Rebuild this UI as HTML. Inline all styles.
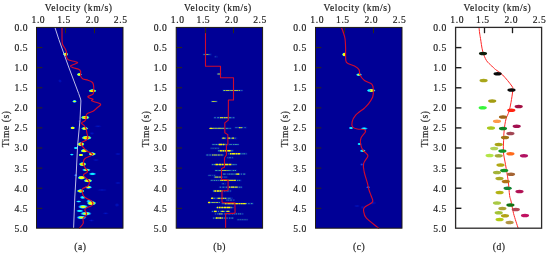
<!DOCTYPE html>
<html lang="en">
<head>
<meta charset="utf-8">
<title>Velocity analysis panels</title>
<style>
html,body{margin:0;padding:0;background:#fff;}
body{width:550px;height:254px;overflow:hidden;position:relative;font-family:"Liberation Serif", "Times New Roman", serif;}
</style>
</head>
<body>
<svg width="550" height="254" viewBox="0 0 550 254" style="display:block;position:absolute;left:0;top:0">
<defs>
<radialGradient id="gh"><stop offset="0" stop-color="#ff7a00"/><stop offset=".22" stop-color="#ffc800"/><stop offset=".5" stop-color="#ffff00"/><stop offset=".78" stop-color="#30ffb0" stop-opacity=".85"/><stop offset=".9" stop-color="#00a0ff" stop-opacity=".45"/><stop offset="1" stop-color="#0040ff" stop-opacity="0"/></radialGradient>
<radialGradient id="gy"><stop offset="0" stop-color="#ffff00"/><stop offset=".5" stop-color="#f0ff10"/><stop offset=".75" stop-color="#40ffc0" stop-opacity=".85"/><stop offset=".9" stop-color="#00a0ff" stop-opacity=".4"/><stop offset="1" stop-color="#0040ff" stop-opacity="0"/></radialGradient>
<radialGradient id="gyc"><stop offset="0" stop-color="#ffff00"/><stop offset=".35" stop-color="#d0ff30"/><stop offset=".6" stop-color="#20f0ff" stop-opacity=".95"/><stop offset=".85" stop-color="#00a0ff" stop-opacity=".5"/><stop offset="1" stop-color="#0040ff" stop-opacity="0"/></radialGradient>
<radialGradient id="gc"><stop offset="0" stop-color="#30ffff"/><stop offset=".5" stop-color="#00e0ff"/><stop offset=".8" stop-color="#0080ff" stop-opacity=".6"/><stop offset="1" stop-color="#0040ff" stop-opacity="0"/></radialGradient>
<radialGradient id="gc2"><stop offset="0" stop-color="#20a0ff"/><stop offset=".6" stop-color="#1060ff" stop-opacity=".7"/><stop offset="1" stop-color="#0030ff" stop-opacity="0"/></radialGradient>
<radialGradient id="gf"><stop offset="0" stop-color="#1030ff" stop-opacity=".45"/><stop offset="1" stop-color="#0020e0" stop-opacity="0"/></radialGradient>
<radialGradient id="gf2"><stop offset="0" stop-color="#3060ff" stop-opacity=".9"/><stop offset="1" stop-color="#0020e0" stop-opacity="0"/></radialGradient>
<linearGradient id="gs" x1="0" x2="1" y1="0" y2="0"><stop offset="0" stop-color="#20c0ff" stop-opacity="0"/><stop offset=".12" stop-color="#40e0c0" stop-opacity=".7"/><stop offset=".3" stop-color="#e8f020"/><stop offset=".7" stop-color="#e8f020"/><stop offset=".88" stop-color="#40e0c0" stop-opacity=".7"/><stop offset="1" stop-color="#20c0ff" stop-opacity="0"/></linearGradient>
<filter id="bl2" x="-5%" y="-5%" width="110%" height="110%"><feGaussianBlur stdDeviation=".22"/></filter>
<filter id="bl" x="-20%" y="-20%" width="140%" height="140%"><feGaussianBlur stdDeviation=".35"/></filter>
</defs>
<rect width="550" height="254" fill="#fff"/>
<rect x="36.5" y="27.4" width="86.5" height="200.8" fill="#000096"/>
<rect x="176.2" y="27.4" width="86.4" height="200.8" fill="#000096"/>
<rect x="315.5" y="27.4" width="86.5" height="200.8" fill="#000096"/>
<g>
<g filter="url(#bl)">
<ellipse cx="65.6" cy="54.3" rx="2.80" ry="2.10" fill="url(#gy)"/>
<ellipse cx="79.3" cy="74.5" rx="2.80" ry="1.68" fill="url(#gy)"/>
<ellipse cx="92.5" cy="90.8" rx="4.20" ry="1.82" fill="url(#gh)"/>
<ellipse cx="74.5" cy="101.4" rx="2.52" ry="1.54" fill="url(#gyc)"/>
<ellipse cx="85.2" cy="117.5" rx="4.55" ry="1.96" fill="url(#gh)"/>
<ellipse cx="72.6" cy="127.9" rx="2.52" ry="1.68" fill="url(#gy)"/>
<ellipse cx="84.8" cy="128.5" rx="3.85" ry="1.68" fill="url(#gy)"/>
<ellipse cx="86.6" cy="137.8" rx="5.25" ry="2.24" fill="url(#gh)"/>
<ellipse cx="80.8" cy="144.2" rx="3.85" ry="2.24" fill="url(#gh)"/>
<ellipse cx="75.9" cy="148.0" rx="2.52" ry="1.54" fill="url(#gc)"/>
<ellipse cx="84.2" cy="150.8" rx="3.85" ry="1.96" fill="url(#gy)"/>
<ellipse cx="92.3" cy="154.0" rx="3.85" ry="1.96" fill="url(#gy)"/>
<ellipse cx="80.9" cy="155.0" rx="2.52" ry="1.54" fill="url(#gy)"/>
<ellipse cx="71.8" cy="154.6" rx="2.10" ry="1.26" fill="url(#gc)"/>
<ellipse cx="82.6" cy="164.2" rx="3.85" ry="2.24" fill="url(#gh)"/>
<ellipse cx="86.4" cy="169.9" rx="4.55" ry="1.68" fill="url(#gyc)"/>
<ellipse cx="92.5" cy="173.9" rx="3.85" ry="1.68" fill="url(#gc)"/>
<ellipse cx="75.7" cy="175.3" rx="1.82" ry="1.54" fill="url(#gc2)"/>
<ellipse cx="81.5" cy="177.7" rx="4.06" ry="2.10" fill="url(#gy)"/>
<ellipse cx="88.0" cy="180.7" rx="4.55" ry="1.96" fill="url(#gy)"/>
<ellipse cx="88.4" cy="187.3" rx="3.85" ry="1.68" fill="url(#gyc)"/>
<ellipse cx="80.6" cy="191.0" rx="3.85" ry="1.96" fill="url(#gh)"/>
<ellipse cx="82.8" cy="197.4" rx="3.15" ry="1.82" fill="url(#gc)"/>
<ellipse cx="78.7" cy="201.5" rx="2.80" ry="1.26" fill="url(#gc)"/>
<ellipse cx="89.5" cy="201.3" rx="3.50" ry="1.82" fill="url(#gc)"/>
<ellipse cx="91.6" cy="203.2" rx="4.90" ry="2.38" fill="url(#gy)"/>
<ellipse cx="83.1" cy="206.8" rx="5.25" ry="2.24" fill="url(#gyc)"/>
<ellipse cx="79.8" cy="210.9" rx="3.85" ry="1.54" fill="url(#gc)"/>
<ellipse cx="85.9" cy="213.6" rx="5.95" ry="2.24" fill="url(#gyc)"/>
<ellipse cx="81.5" cy="217.5" rx="5.25" ry="1.96" fill="url(#gyc)"/>
<ellipse cx="79.3" cy="121.3" rx="2.10" ry="1.40" fill="url(#gf)"/>
<ellipse cx="98.0" cy="126.3" rx="4.20" ry="1.40" fill="url(#gf)"/>
<ellipse cx="92.0" cy="133.4" rx="2.80" ry="1.68" fill="url(#gf)"/>
<ellipse cx="105.7" cy="213.4" rx="3.50" ry="1.40" fill="url(#gf)"/>
<ellipse cx="91.4" cy="220.5" rx="3.50" ry="1.40" fill="url(#gf)"/>
<ellipse cx="60.0" cy="81.0" rx="2.10" ry="2.10" fill="url(#gf)"/>
<ellipse cx="102.0" cy="190.0" rx="5.60" ry="1.40" fill="url(#gf)"/>
<ellipse cx="96.0" cy="160.0" rx="3.50" ry="1.40" fill="url(#gf)"/>
<ellipse cx="118.0" cy="154.0" rx="3.50" ry="1.40" fill="url(#gf)"/>
<ellipse cx="118.0" cy="183.0" rx="3.50" ry="1.40" fill="url(#gf)"/>
<ellipse cx="117.0" cy="205.0" rx="2.80" ry="2.10" fill="url(#gf)"/>
</g>
<polyline points="54.9,27.3 58.9,39.6 68.3,66.0 78.7,93.6 80.6,99.0 80.9,101.0 80.0,119.6 77.6,145.6 76.3,172.0 74.8,197.0 73.6,228.3" fill="none" stroke="#bcbce8" stroke-width="1" stroke-linejoin="round"/>
<path d="M62.0,27.3 C62.0,28.8 62.0,33.7 62.0,36.0 C62.0,38.3 62.0,39.6 62.1,41.0 C62.2,42.4 62.0,43.0 62.6,44.4 C63.2,45.8 64.8,48.0 65.5,49.4 C66.2,50.8 66.4,51.5 66.6,52.7 C66.8,53.9 66.1,55.3 66.4,56.5 C66.7,57.7 66.8,59.0 68.2,59.8 C69.6,60.6 73.2,61.0 74.8,61.5 C76.4,62.0 77.8,62.3 77.6,62.8 C77.4,63.3 74.9,63.9 73.7,64.5 C72.5,65.1 70.5,65.7 70.4,66.2 C70.3,66.7 71.8,67.2 73.2,67.7 C74.6,68.2 77.5,68.7 78.7,69.3 C79.9,69.9 80.3,70.4 80.6,71.5 C80.9,72.6 80.3,74.7 80.6,75.9 C80.9,77.1 81.4,78.0 82.6,78.7 C83.8,79.4 86.3,79.7 88.0,80.3 C89.7,80.9 91.6,81.6 92.5,82.5 C93.4,83.4 93.4,84.5 93.6,85.8 C93.8,87.0 93.8,88.6 93.7,90.0 C93.6,91.4 94.0,93.1 93.0,94.2 C92.0,95.3 88.6,95.8 88.0,96.4 C87.4,97.0 88.4,97.5 89.2,98.0 C90.0,98.5 92.6,98.8 93.0,99.2 C93.4,99.6 91.2,100.2 91.4,100.6 C91.6,101.0 92.7,101.2 94.1,101.7 C95.5,102.2 98.7,103.0 99.7,103.6 C100.8,104.2 100.9,104.5 100.4,105.2 C99.9,105.9 98.1,107.0 96.9,108.0 C95.7,109.0 94.6,110.4 93.0,111.3 C91.4,112.2 88.7,112.8 87.5,113.5 C86.3,114.2 86.3,115.0 86.1,115.7 C85.9,116.5 86.5,117.2 86.3,118.0 C86.1,118.8 85.6,120.0 84.8,120.8 C84.0,121.6 81.6,122.2 81.5,123.0 C81.4,123.8 83.4,124.7 84.2,125.7 C85.0,126.7 85.6,127.7 86.1,129.0 C86.6,130.3 86.7,131.9 87.0,133.4 C87.3,134.9 88.0,136.7 87.9,137.8 C87.8,138.9 87.4,139.2 86.4,140.0 C85.4,140.8 82.9,141.6 82.0,142.3 C81.1,143.1 80.9,143.6 81.2,144.5 C81.5,145.4 82.7,146.8 83.7,147.9 C84.7,149.0 85.6,150.3 87.0,151.2 C88.4,152.1 91.0,152.8 91.9,153.4 C92.8,154.0 92.8,154.1 92.5,154.5 C92.2,154.9 91.5,155.5 90.3,156.1 C89.1,156.7 86.4,157.4 85.3,158.3 C84.2,159.2 83.6,160.4 83.4,161.6 C83.2,162.8 83.5,164.3 83.9,165.5 C84.3,166.7 85.3,167.9 85.9,168.8 C86.5,169.7 87.3,170.4 87.5,171.0 C87.7,171.6 87.7,171.7 87.0,172.4 C86.3,173.1 83.7,174.1 83.4,175.0 C83.1,175.9 84.4,176.8 85.3,177.7 C86.2,178.6 87.9,179.5 88.6,180.5 C89.2,181.5 89.4,182.8 89.2,183.8 C89.0,184.8 88.6,185.5 87.5,186.3 C86.4,187.1 83.5,187.8 82.6,188.7 C81.7,189.6 82.1,190.8 82.3,192.0 C82.5,193.2 83.0,195.2 83.7,196.2 C84.4,197.2 85.1,197.4 86.4,198.2 C87.7,199.0 90.3,200.1 91.4,201.0 C92.5,201.9 93.0,202.9 93.0,203.7 C93.0,204.5 92.4,205.2 91.4,205.9 C90.4,206.6 88.1,206.9 87.0,207.6 C85.9,208.2 84.9,208.9 84.8,209.8 C84.7,210.7 86.2,212.1 86.4,213.1 C86.6,214.1 86.5,214.9 85.9,215.8 C85.4,216.7 83.5,217.3 83.1,218.6 C82.6,219.9 83.8,221.8 83.2,223.4 C82.6,225.0 79.9,227.5 79.2,228.3" fill="none" stroke="#d00a2e" stroke-width="1.15" stroke-linejoin="round"/>
</g>
<g>
<g filter="url(#bl2)">
<rect x="202.5" y="53.30" width="9.5" height="2.4" rx="1.2" fill="#1040f0" opacity="0.20"/>
<line x1="203.4" y1="54.50" x2="211.1" y2="54.50" stroke="#58dca0" stroke-width="1" stroke-dasharray="2 1.3 2 0.6 1 1.3 1 0.4" opacity="0.52"/>
<line x1="205.0" y1="54.50" x2="209.0" y2="54.50" stroke="#afc44a" stroke-width="1.05" stroke-dasharray="3.4 0.5 1.8 0.3" opacity="0.66"/>
<rect x="214.0" y="55.50" width="4.0" height="2.4" rx="1.2" fill="#1040f0" opacity="0.18"/>
<line x1="214.9" y1="56.70" x2="217.1" y2="56.70" stroke="#58dca0" stroke-width="1" stroke-dasharray="0.7 1.3 2 0.6" opacity="0.47"/>
<rect x="216.5" y="72.80" width="5.5" height="2.4" rx="1.2" fill="#1040f0" opacity="0.20"/>
<line x1="217.4" y1="74.00" x2="221.1" y2="74.00" stroke="#58dca0" stroke-width="1" stroke-dasharray="0.7 0.4 0.7 0.4 1 0.6 0.7 1.3" opacity="0.52"/>
<line x1="218.0" y1="74.00" x2="220.0" y2="74.00" stroke="#a8c050" stroke-width="1.05" stroke-linecap="round"/>
<rect x="222.2" y="89.30" width="21.0" height="2.4" rx="1.2" fill="#1040f0" opacity="0.24"/>
<line x1="223.1" y1="90.50" x2="242.3" y2="90.50" stroke="#58dca0" stroke-width="1" stroke-dasharray="1.4 1.3 1 0.6 1.4 1.3 0.7 0.4 2 0.9 2 0.4 1.4 0.9 1 0.9 0.7 0.4 0.7 1.3" opacity="0.70"/>
<line x1="224.0" y1="90.50" x2="240.0" y2="90.50" stroke="#d0d82b" stroke-width="1.05" stroke-dasharray="1.2 0.5 3.4 0.3 1.2 0.7 1.2 0.3 1.8 0.3 3.4 0.5 3.4 0.5" opacity="0.81"/>
<rect x="210.5" y="100.30" width="7.5" height="2.4" rx="1.2" fill="#1040f0" opacity="0.22"/>
<line x1="211.4" y1="101.50" x2="217.1" y2="101.50" stroke="#58dca0" stroke-width="1" stroke-dasharray="0.7 0.6 1.4 0.9 0.7 0.9 1.4 0.4" opacity="0.61"/>
<line x1="212.0" y1="101.50" x2="216.5" y2="101.50" stroke="#d0d82b" stroke-width="1.05" stroke-dasharray="3.4 0.3 1.8 0.3" opacity="0.81"/>
<rect x="213.2" y="116.50" width="22.0" height="2.4" rx="1.2" fill="#1040f0" opacity="0.24"/>
<line x1="214.1" y1="117.70" x2="234.3" y2="117.70" stroke="#58dca0" stroke-width="1" stroke-dasharray="0.7 0.4 0.7 1.3 2 0.6 1 1.3 1 0.6 2 1.3 0.7 1.3 2 0.6 0.7 0.9 1.4 0.4 1 0.6" opacity="0.70"/>
<line x1="220.0" y1="117.70" x2="228.0" y2="117.70" stroke="#dee01f" stroke-width="1.16" stroke-dasharray="3.4 0.7 1.2 0.3 1.8 0.3 3.4 0.5" opacity="0.87"/>
<rect x="209.4" y="127.20" width="22.5" height="2.4" rx="1.2" fill="#1040f0" opacity="0.24"/>
<line x1="210.3" y1="128.40" x2="231.0" y2="128.40" stroke="#58dca0" stroke-width="1" stroke-dasharray="0.7 0.9 1.4 1.3 0.7 0.4 0.7 0.6 1 0.4 1.4 0.9 2 0.6 2 0.6 2 0.6 1 0.9 1 0.6" opacity="0.70"/>
<line x1="210.0" y1="128.40" x2="212.0" y2="128.40" stroke="#f8f006" stroke-width="1.39" stroke-linecap="round"/>
<line x1="213.0" y1="128.40" x2="224.0" y2="128.40" stroke="#c3d037" stroke-width="1.05" stroke-dasharray="1.8 0.3 1.8 0.7 3.4 0.5 1.2 0.5 1.2 0.3" opacity="0.75"/>
<rect x="234.2" y="126.40" width="13.1" height="2.4" rx="1.2" fill="#1040f0" opacity="0.20"/>
<line x1="235.1" y1="127.60" x2="246.4" y2="127.60" stroke="#58dca0" stroke-width="1" stroke-dasharray="0.7 0.4 1.4 0.6 2 0.9 2 1.3 1.4 0.6 0.7 0.6" opacity="0.52"/>
<line x1="239.0" y1="127.60" x2="242.0" y2="127.60" stroke="#dee01f" stroke-width="1.16" stroke-dasharray="1.8 0.5 1.2 0.5" opacity="0.87"/>
<rect x="221.0" y="137.00" width="16.4" height="2.4" rx="1.2" fill="#1040f0" opacity="0.23"/>
<line x1="221.9" y1="138.20" x2="236.5" y2="138.20" stroke="#58dca0" stroke-width="1" stroke-dasharray="1 0.6 0.7 0.4 1.4 1.3 2 0.6 0.7 0.4 1 0.9 1.4 0.6 0.7 0.9 1 1.3" opacity="0.66"/>
<line x1="223.0" y1="138.20" x2="224.2" y2="138.20" stroke="#ebe812" stroke-width="1.28" stroke-linecap="round"/>
<line x1="228.3" y1="138.20" x2="229.6" y2="138.20" stroke="#ebe812" stroke-width="1.28" stroke-linecap="round"/>
<line x1="232.4" y1="138.20" x2="233.6" y2="138.20" stroke="#dee01f" stroke-width="1.16" stroke-linecap="round"/>
<rect x="211.5" y="143.30" width="28.0" height="2.4" rx="1.2" fill="#1040f0" opacity="0.23"/>
<line x1="212.4" y1="144.50" x2="238.6" y2="144.50" stroke="#58dca0" stroke-width="1" stroke-dasharray="1.4 0.6 0.7 0.4 2 0.9 1.4 0.4 0.7 0.4 2 0.4 1.4 0.9 1 0.4 0.7 1.3 1.4 0.4 1 0.9 1.4 0.4 2 0.4 2 0.4" opacity="0.66"/>
<line x1="218.7" y1="144.50" x2="225.3" y2="144.50" stroke="#fff400" stroke-width="1.50" stroke-dasharray="3.4 0.7 1.2 0.7 3.4 0.5" opacity="1.00"/>
<rect x="209.9" y="147.10" width="9.9" height="2.4" rx="1.2" fill="#1040f0" opacity="0.18"/>
<line x1="210.8" y1="148.30" x2="218.9" y2="148.30" stroke="#58dca0" stroke-width="1" stroke-dasharray="0.7 0.4 0.7 0.4 0.7 0.9 2 0.9 2 1.3" opacity="0.47"/>
<rect x="217.1" y="149.60" width="17.0" height="2.4" rx="1.2" fill="#1040f0" opacity="0.26"/>
<line x1="218.0" y1="150.80" x2="233.2" y2="150.80" stroke="#58dca0" stroke-width="1" stroke-dasharray="2 1.3 0.7 0.4 1.4 0.4 2 0.4 1 0.4 2 1.3 1.4 0.4 1.4 0.9" opacity="0.75"/>
<line x1="220.0" y1="150.80" x2="231.0" y2="150.80" stroke="#fff400" stroke-width="1.44" stroke-dasharray="1.8 0.7 1.8 0.7 1.8 0.5 3.4 0.5" opacity="1.00"/>
<rect x="227.5" y="152.60" width="20.0" height="2.4" rx="1.2" fill="#1040f0" opacity="0.24"/>
<line x1="228.4" y1="153.80" x2="246.6" y2="153.80" stroke="#58dca0" stroke-width="1" stroke-dasharray="1 0.9 2 0.9 1 1.3 1 0.6 2 0.6 1.4 0.6 1 0.6 2 0.9 0.7 0.4 1.4 0.6" opacity="0.70"/>
<line x1="230.0" y1="153.80" x2="240.0" y2="153.80" stroke="#f8f006" stroke-width="1.39" stroke-dasharray="1.2 0.5 3.4 0.5 1.8 0.5 3.4 0.7" opacity="0.99"/>
<rect x="205.5" y="153.80" width="18.7" height="2.4" rx="1.2" fill="#1040f0" opacity="0.23"/>
<line x1="206.4" y1="155.00" x2="223.3" y2="155.00" stroke="#58dca0" stroke-width="1" stroke-dasharray="2 0.9 2 0.9 0.7 0.4 1.4 0.4 1.4 0.9 1.4 0.4 1 1.3 2 0.6" opacity="0.66"/>
<line x1="212.0" y1="155.00" x2="222.0" y2="155.00" stroke="#dee01f" stroke-width="1.16" stroke-dasharray="1.2 0.5 1.8 0.3 1.2 0.7 1.2 0.5 1.2 0.7 2.6 0.3" opacity="0.87"/>
<rect x="226.5" y="156.50" width="7.6" height="2.4" rx="1.2" fill="#1040f0" opacity="0.20"/>
<line x1="227.4" y1="157.70" x2="233.2" y2="157.70" stroke="#58dca0" stroke-width="1" stroke-dasharray="1 0.6 2 0.9 1 0.4 2 0.4" opacity="0.52"/>
<rect x="211.0" y="163.40" width="26.4" height="2.4" rx="1.2" fill="#1040f0" opacity="0.26"/>
<line x1="211.9" y1="164.60" x2="236.5" y2="164.60" stroke="#58dca0" stroke-width="1" stroke-dasharray="1 0.6 1.4 0.9 1 1.3 1 0.4 2 1.3 1 1.3 2 0.6 0.7 1.3 1.4 1.3 1.4 0.6 0.7 0.4 1 0.6 2 0.4" opacity="0.75"/>
<line x1="215.4" y1="164.60" x2="231.4" y2="164.60" stroke="#fff400" stroke-width="1.50" stroke-dasharray="2.6 0.7 2.6 0.5 1.2 0.5 1.2 0.3 3.4 0.5 3.4 0.5" opacity="1.00"/>
<rect x="214.3" y="169.30" width="23.1" height="2.4" rx="1.2" fill="#1040f0" opacity="0.24"/>
<line x1="215.2" y1="170.50" x2="236.5" y2="170.50" stroke="#58dca0" stroke-width="1" stroke-dasharray="2 0.4 1 0.4 2 0.4 1 0.9 1 1.3 1 1.3 2 0.4 1 1.3 1.4 0.6 1.4 0.9 2 0.6" opacity="0.70"/>
<line x1="221.0" y1="170.50" x2="228.0" y2="170.50" stroke="#d0d82b" stroke-width="1.05" stroke-dasharray="2.6 0.3 2.6 0.7 3.4 0.3" opacity="0.81"/>
<rect x="222.1" y="172.90" width="24.1" height="2.4" rx="1.2" fill="#1040f0" opacity="0.24"/>
<line x1="223.0" y1="174.10" x2="245.3" y2="174.10" stroke="#58dca0" stroke-width="1" stroke-dasharray="2 0.4 0.7 1.3 0.7 0.4 2 0.4 2 0.4 1 0.4 2 1.3 2 0.9 1 1.3 2 0.6 1.4 1.3" opacity="0.70"/>
<line x1="236.3" y1="174.10" x2="239.0" y2="174.10" stroke="#f8f006" stroke-width="1.39" stroke-dasharray="3.4 0.7" opacity="0.99"/>
<rect x="207.5" y="174.20" width="9.0" height="2.4" rx="1.2" fill="#1040f0" opacity="0.18"/>
<line x1="208.4" y1="175.40" x2="215.6" y2="175.40" stroke="#58dca0" stroke-width="1" stroke-dasharray="1.4 0.4 1 1.3 0.7 0.9 1 0.4 0.7 0.6" opacity="0.47"/>
<rect x="213.2" y="175.90" width="15.3" height="2.4" rx="1.2" fill="#1040f0" opacity="0.23"/>
<line x1="214.1" y1="177.10" x2="227.6" y2="177.10" stroke="#58dca0" stroke-width="1" stroke-dasharray="1 0.6 0.7 0.9 1.4 0.9 1 1.3 0.7 1.3 0.7 0.9 1 1.3 0.7 1.3" opacity="0.66"/>
<line x1="215.0" y1="177.10" x2="222.0" y2="177.10" stroke="#d0d82b" stroke-width="1.05" stroke-dasharray="3.4 0.7 1.8 0.7 1.8 0.7" opacity="0.81"/>
<rect x="209.9" y="179.20" width="31.9" height="2.4" rx="1.2" fill="#1040f0" opacity="0.24"/>
<line x1="210.8" y1="180.40" x2="240.9" y2="180.40" stroke="#58dca0" stroke-width="1" stroke-dasharray="1 0.6 1 0.6 1.4 0.6 1.4 0.9 1 0.6 1 0.4 1 0.6 1 0.4 1.4 1.3 0.7 1.3 2 0.6 1 1.3 0.7 0.4 1 0.9 1.4 0.4 1.4 0.6 0.7 1.3" opacity="0.70"/>
<line x1="220.4" y1="180.40" x2="235.8" y2="180.40" stroke="#f2ec0c" stroke-width="1.33" stroke-dasharray="1.2 0.3 1.2 0.7 3.4 0.3 1.8 0.3 1.2 0.3 1.8 0.3 2.6 0.7" opacity="0.96"/>
<rect x="221.0" y="182.50" width="5.4" height="2.4" rx="1.2" fill="#1040f0" opacity="0.20"/>
<line x1="221.9" y1="183.70" x2="225.5" y2="183.70" stroke="#58dca0" stroke-width="1" stroke-dasharray="0.7 0.4 1 1.3 0.7 0.4" opacity="0.52"/>
<rect x="218.8" y="186.00" width="24.1" height="2.4" rx="1.2" fill="#1040f0" opacity="0.24"/>
<line x1="219.7" y1="187.20" x2="242.0" y2="187.20" stroke="#58dca0" stroke-width="1" stroke-dasharray="1.4 1.3 2 1.3 1.4 1.3 1 0.9 0.7 0.4 1 0.6 2 1.3 1.4 0.9 2 0.6 1 0.4 0.7 0.9" opacity="0.70"/>
<line x1="229.0" y1="187.20" x2="238.0" y2="187.20" stroke="#f2ec0c" stroke-width="1.33" stroke-dasharray="1.2 0.7 3.4 0.7 1.8 0.7 2.6 0.5" opacity="0.96"/>
<rect x="212.1" y="189.80" width="19.8" height="2.4" rx="1.2" fill="#1040f0" opacity="0.26"/>
<line x1="213.0" y1="191.00" x2="231.0" y2="191.00" stroke="#58dca0" stroke-width="1" stroke-dasharray="1.4 0.4 1 1.3 1 0.9 1.4 1.3 1 1.3 1 0.6 0.7 0.9 1.4 1.3 0.7 0.4 1.4 0.4" opacity="0.75"/>
<line x1="214.3" y1="191.00" x2="222.6" y2="191.00" stroke="#fff400" stroke-width="1.50" stroke-dasharray="1.8 0.5 2.6 0.5 1.8 0.7 3.4 0.7" opacity="1.00"/>
<rect x="211.0" y="197.10" width="22.0" height="2.4" rx="1.2" fill="#1040f0" opacity="0.23"/>
<line x1="211.9" y1="198.30" x2="232.1" y2="198.30" stroke="#58dca0" stroke-width="1" stroke-dasharray="1 0.4 2 1.3 1 0.4 2 0.4 0.7 0.4 1 0.9 2 1.3 0.7 0.6 2 0.4 0.7 0.9 1.4 0.9" opacity="0.66"/>
<line x1="211.6" y1="198.30" x2="212.6" y2="198.30" stroke="#f8f006" stroke-width="1.39" stroke-linecap="round"/>
<line x1="217.6" y1="198.30" x2="227.0" y2="198.30" stroke="#dee01f" stroke-width="1.16" stroke-dasharray="2.6 0.7 3.4 0.7 1.2 0.7 3.4 0.7" opacity="0.87"/>
<rect x="225.4" y="198.90" width="9.8" height="2.4" rx="1.2" fill="#1040f0" opacity="0.20"/>
<line x1="226.3" y1="200.10" x2="234.3" y2="200.10" stroke="#58dca0" stroke-width="1" stroke-dasharray="0.7 0.4 2 0.6 2 1.3 1 1.3" opacity="0.52"/>
<rect x="207.7" y="201.30" width="13.2" height="2.4" rx="1.2" fill="#1040f0" opacity="0.23"/>
<line x1="208.6" y1="202.50" x2="220.0" y2="202.50" stroke="#58dca0" stroke-width="1" stroke-dasharray="0.7 1.3 2 1.3 1.4 1.3 1.4 0.9 1.4 1.3" opacity="0.66"/>
<line x1="208.6" y1="202.50" x2="209.7" y2="202.50" stroke="#f8f006" stroke-width="1.39" stroke-linecap="round"/>
<line x1="212.0" y1="202.50" x2="219.0" y2="202.50" stroke="#c9d431" stroke-width="1.05" stroke-dasharray="2.6 0.7 2.6 0.7 2.6 0.3" opacity="0.78"/>
<rect x="221.0" y="202.40" width="32.9" height="2.4" rx="1.2" fill="#1040f0" opacity="0.27"/>
<line x1="221.9" y1="203.60" x2="253.0" y2="203.60" stroke="#58dca0" stroke-width="1" stroke-dasharray="0.7 0.6 0.7 0.6 2 1.3 0.7 0.9 2 0.4 1.4 0.4 1 1.3 2 0.9 1 0.4 0.7 1.3 1 0.6 0.7 0.4 2 1.3 0.7 0.6 0.7 0.9 1 0.4 1.4 1.3" opacity="0.79"/>
<line x1="224.8" y1="203.60" x2="245.7" y2="203.60" stroke="#f8f006" stroke-width="1.39" stroke-dasharray="1.8 0.7 3.4 0.5 2.6 0.7 3.4 0.5 1.8 0.5 1.8 0.3 3.4 0.3" opacity="0.99"/>
<rect x="215.5" y="206.40" width="18.6" height="2.4" rx="1.2" fill="#1040f0" opacity="0.26"/>
<line x1="216.4" y1="207.60" x2="233.2" y2="207.60" stroke="#58dca0" stroke-width="1" stroke-dasharray="1.4 0.9 1.4 0.9 1 0.9 1 0.6 1 0.6 0.7 0.4 0.7 0.9 1.4 1.3 0.7 0.4 0.7 0.6 1.4 0.4" opacity="0.75"/>
<line x1="217.0" y1="207.60" x2="231.4" y2="207.60" stroke="#fff400" stroke-width="1.50" stroke-dasharray="1.2 0.7 1.8 0.7 1.8 0.7 2.6 0.5 3.4 0.5 1.8 0.5" opacity="1.00"/>
<rect x="211.0" y="210.20" width="19.8" height="2.4" rx="1.2" fill="#1040f0" opacity="0.23"/>
<line x1="211.9" y1="211.40" x2="229.9" y2="211.40" stroke="#58dca0" stroke-width="1" stroke-dasharray="1.4 1.3 1 0.4 0.7 1.3 1 1.3 2 0.9 2 0.6 1.4 0.6 1.4 0.9 1 1.3" opacity="0.66"/>
<line x1="214.0" y1="211.40" x2="217.0" y2="211.40" stroke="#f8f006" stroke-width="1.39" stroke-dasharray="2.6 0.7" opacity="0.99"/>
<line x1="222.0" y1="211.40" x2="223.2" y2="211.40" stroke="#ebe812" stroke-width="1.28" stroke-linecap="round"/>
<line x1="227.0" y1="211.40" x2="229.0" y2="211.40" stroke="#dee01f" stroke-width="1.16" stroke-linecap="round"/>
<rect x="214.3" y="212.70" width="29.7" height="2.4" rx="1.2" fill="#1040f0" opacity="0.23"/>
<line x1="215.2" y1="213.90" x2="243.1" y2="213.90" stroke="#58dca0" stroke-width="1" stroke-dasharray="0.7 1.3 1.4 0.4 0.7 1.3 2 1.3 1.4 0.4 0.7 0.9 1 0.4 1.4 1.3 1.4 0.9 1 0.6 1.4 0.9 1.4 0.4 1.4 1.3 1.4 1.3" opacity="0.66"/>
<line x1="219.0" y1="213.90" x2="222.0" y2="213.90" stroke="#d0d82b" stroke-width="1.05" stroke-dasharray="2.6 0.5" opacity="0.81"/>
<rect x="212.1" y="216.90" width="22.0" height="2.4" rx="1.2" fill="#1040f0" opacity="0.24"/>
<line x1="213.0" y1="218.10" x2="233.2" y2="218.10" stroke="#58dca0" stroke-width="1" stroke-dasharray="1.4 0.6 2 0.6 0.7 0.9 1.4 0.4 1.4 1.3 2 0.6 1.4 1.3 1 0.6 1 0.4 2 0.9" opacity="0.70"/>
<line x1="216.0" y1="218.10" x2="222.6" y2="218.10" stroke="#fff400" stroke-width="1.50" stroke-dasharray="1.2 0.3 1.2 0.7 1.8 0.7 2.6 0.3" opacity="1.00"/>
<rect x="236.5" y="218.50" width="12.0" height="2.4" rx="1.2" fill="#1040f0" opacity="0.17"/>
<line x1="237.4" y1="219.70" x2="247.6" y2="219.70" stroke="#58dca0" stroke-width="1" stroke-dasharray="2 0.4 1.4 0.4 1.4 0.4 1.4 0.4 1.4 0.4 0.7 0.6 0.7 1.3" opacity="0.43"/>
</g>
<path d="M205.5,27.4 L205.5,66.3 L220.5,66.3 L220.5,77.8 L233.5,77.8 L233.5,100.0 L228.4,100.0 L228.3,120.1 L224.8,122.9 L224.8,132.8 L227.8,134.6 L227.9,143.9 L226.4,145.6 L226.4,155.0 L224.5,157.7 L224.5,167.2 L221.5,168.5 L221.5,179.3 L228.1,180.0 L228.1,189.9 L227.0,190.6 L222.6,190.7 L222.0,191.6 L222.0,202.0 L223.0,202.7 L234.9,202.8 L235.1,212.6 L234.0,213.4 L225.6,213.5 L225.6,228.2" fill="none" stroke="#d00a2e" stroke-width="1.1" stroke-linejoin="round"/>
</g>
<g>
<g filter="url(#bl)">
<ellipse cx="344.2" cy="54.5" rx="2.24" ry="2.24" fill="url(#gy)"/>
<ellipse cx="359.0" cy="74.7" rx="3.22" ry="1.68" fill="url(#gyc)"/>
<ellipse cx="371.3" cy="90.5" rx="4.48" ry="1.82" fill="url(#gy)"/>
<ellipse cx="368.8" cy="90.5" rx="2.10" ry="1.54" fill="url(#gc)"/>
<ellipse cx="351.0" cy="128.0" rx="2.52" ry="1.40" fill="url(#gc)"/>
<ellipse cx="364.2" cy="128.5" rx="3.85" ry="1.54" fill="url(#gc)"/>
<ellipse cx="359.5" cy="144.0" rx="2.38" ry="1.54" fill="url(#gc)"/>
<ellipse cx="362.7" cy="150.8" rx="3.22" ry="1.68" fill="url(#gc)"/>
<ellipse cx="363.6" cy="151.0" rx="1.68" ry="1.12" fill="url(#gy)"/>
<ellipse cx="361.8" cy="164.5" rx="2.10" ry="1.68" fill="url(#gf2)"/>
<ellipse cx="368.2" cy="187.3" rx="2.38" ry="1.40" fill="url(#gc2)"/>
<ellipse cx="362.7" cy="207.3" rx="2.80" ry="2.10" fill="url(#gf)"/>
<ellipse cx="373.0" cy="203.0" rx="3.50" ry="2.10" fill="url(#gf)"/>
<ellipse cx="357.0" cy="206.0" rx="3.50" ry="1.40" fill="url(#gf)"/>
</g>
<path d="M341.3,27.3 C341.7,28.2 342.9,31.1 343.5,33.0 C344.1,34.9 344.6,36.0 345.0,38.5 C345.4,41.0 345.5,44.4 345.6,48.0 C345.7,51.6 345.4,57.8 345.8,60.4 C346.2,63.0 346.6,62.6 348.0,63.5 C349.4,64.4 352.7,65.0 354.5,66.0 C356.3,67.0 358.1,68.1 359.0,69.6 C359.9,71.1 359.1,73.2 360.0,75.0 C360.9,76.8 362.5,79.0 364.5,80.5 C366.5,82.0 370.3,82.7 371.8,84.2 C373.3,85.7 373.2,87.5 373.3,89.6 C373.4,91.7 373.6,94.6 372.7,97.0 C371.8,99.4 369.6,102.3 368.2,104.2 C366.8,106.1 366.4,106.4 364.3,108.2 C362.2,110.0 357.5,113.1 355.5,115.3 C353.5,117.5 352.7,119.6 352.2,121.6 C351.7,123.5 351.8,125.8 352.7,127.0 C353.6,128.2 355.5,128.6 357.3,129.0 C359.1,129.4 362.2,129.1 363.6,129.5 C365.0,129.9 365.9,130.2 365.5,131.6 C365.1,133.0 361.8,136.0 361.0,138.0 C360.2,140.0 360.2,141.5 360.5,143.5 C360.8,145.5 361.7,148.1 362.7,149.8 C363.7,151.5 365.5,152.4 366.4,153.5 C367.2,154.6 368.3,154.7 367.8,156.4 C367.3,158.1 364.2,161.0 363.6,163.6 C363.0,166.2 363.6,168.6 364.2,171.8 C364.8,175.0 366.5,179.7 367.3,182.7 C368.1,185.7 368.4,187.9 369.0,190.0 C369.6,192.1 370.4,193.8 371.0,195.5 C371.6,197.2 372.6,198.8 372.7,200.0 C372.8,201.2 373.2,201.5 371.8,202.7 C370.4,203.9 365.9,205.9 364.5,207.3 C363.1,208.7 363.3,209.2 363.6,211.0 C363.9,212.8 363.8,215.3 366.4,218.2 C369.0,221.1 376.9,226.6 379.0,228.3" fill="none" stroke="#d00a2e" stroke-width="1.15"/>
</g>
<g>
<path d="M479.0,27.3 C479.1,28.2 479.4,31.1 479.6,33.0 C479.9,34.9 480.0,35.5 480.5,38.5 C481.0,41.5 481.7,47.6 482.7,51.3 C483.7,54.9 484.9,57.9 486.4,60.4 C487.9,62.9 490.3,64.5 491.8,66.0 C493.3,67.5 493.7,68.0 495.5,69.5 C497.3,71.0 500.0,72.2 502.7,75.0 C505.4,77.8 510.1,83.4 511.8,86.0 C513.5,88.6 512.8,87.8 512.7,90.5 C512.6,93.2 511.6,98.9 511.0,102.4 C510.4,105.9 509.8,108.7 509.0,111.5 C508.2,114.3 506.8,116.0 506.0,119.0 C505.2,122.0 504.6,126.2 504.2,129.8 C503.8,133.4 503.7,137.0 503.6,140.7 C503.5,144.4 503.1,148.0 503.4,152.0 C503.7,156.0 504.7,159.7 505.5,164.5 C506.3,169.3 507.5,175.8 508.2,181.0 C508.9,186.2 509.1,192.2 509.6,195.5 C510.1,198.8 510.3,198.0 511.0,201.0 C511.7,204.0 512.4,209.0 513.6,213.6 C514.8,218.2 517.4,225.9 518.2,228.3" fill="none" stroke="#ff2626" stroke-width="1"/>
<ellipse cx="483.0" cy="53.5" rx="4.1" ry="1.75" fill="#0c1e0c"/>
<ellipse cx="497.6" cy="73.8" rx="4.1" ry="1.75" fill="#0a0a0a"/>
<ellipse cx="483.6" cy="80.5" rx="4.1" ry="1.75" fill="#a8a61a"/>
<ellipse cx="511.5" cy="90.0" rx="4.1" ry="1.75" fill="#0a0a0a"/>
<ellipse cx="492.2" cy="101.0" rx="4.1" ry="1.75" fill="#a39c12"/>
<ellipse cx="518.7" cy="106.4" rx="4.1" ry="1.75" fill="#a30f42"/>
<ellipse cx="482.7" cy="107.8" rx="4.1" ry="1.75" fill="#35f53a"/>
<ellipse cx="511.3" cy="110.3" rx="4.1" ry="1.75" fill="#ff2412"/>
<ellipse cx="503.0" cy="117.0" rx="4.1" ry="1.75" fill="#a0661a"/>
<ellipse cx="497.0" cy="121.3" rx="4.1" ry="1.75" fill="#ff9a4a"/>
<ellipse cx="516.7" cy="126.2" rx="4.1" ry="1.75" fill="#a31050"/>
<ellipse cx="491.0" cy="128.0" rx="4.1" ry="1.75" fill="#a9c71c"/>
<ellipse cx="503.0" cy="128.5" rx="4.1" ry="1.75" fill="#128222"/>
<ellipse cx="510.4" cy="133.5" rx="4.1" ry="1.75" fill="#a24654"/>
<ellipse cx="505.0" cy="137.5" rx="4.1" ry="1.75" fill="#a17214"/>
<ellipse cx="498.7" cy="144.4" rx="4.1" ry="1.75" fill="#a9a214"/>
<ellipse cx="494.2" cy="148.4" rx="4.1" ry="1.75" fill="#b2d256"/>
<ellipse cx="502.4" cy="151.0" rx="4.1" ry="1.75" fill="#149424"/>
<ellipse cx="510.4" cy="153.8" rx="4.1" ry="1.75" fill="#ff6a1a"/>
<ellipse cx="489.6" cy="155.5" rx="4.1" ry="1.75" fill="#b3e547"/>
<ellipse cx="498.7" cy="155.8" rx="4.1" ry="1.75" fill="#a2aa34"/>
<ellipse cx="524.0" cy="155.8" rx="4.1" ry="1.75" fill="#b11262"/>
<ellipse cx="500.5" cy="165.0" rx="4.1" ry="1.75" fill="#b1a814"/>
<ellipse cx="504.2" cy="170.5" rx="4.1" ry="1.75" fill="#149424"/>
<ellipse cx="497.0" cy="172.4" rx="4.1" ry="1.75" fill="#a3b338"/>
<ellipse cx="511.0" cy="174.2" rx="4.1" ry="1.75" fill="#a46434"/>
<ellipse cx="499.5" cy="178.5" rx="4.1" ry="1.75" fill="#a9a824"/>
<ellipse cx="505.8" cy="181.5" rx="4.1" ry="1.75" fill="#b17414"/>
<ellipse cx="507.6" cy="188.2" rx="4.1" ry="1.75" fill="#128434"/>
<ellipse cx="519.5" cy="191.6" rx="4.1" ry="1.75" fill="#b11254"/>
<ellipse cx="499.6" cy="192.4" rx="4.1" ry="1.75" fill="#b2b214"/>
<ellipse cx="497.0" cy="203.0" rx="4.1" ry="1.75" fill="#a9c944"/>
<ellipse cx="510.4" cy="205.0" rx="4.1" ry="1.75" fill="#107212"/>
<ellipse cx="502.4" cy="208.5" rx="4.1" ry="1.75" fill="#a9a234"/>
<ellipse cx="515.8" cy="209.6" rx="4.1" ry="1.75" fill="#b14454"/>
<ellipse cx="498.7" cy="212.7" rx="4.1" ry="1.75" fill="#a2c234"/>
<ellipse cx="525.0" cy="215.5" rx="4.1" ry="1.75" fill="#c11262"/>
<ellipse cx="505.0" cy="215.8" rx="4.1" ry="1.75" fill="#b1a214"/>
<ellipse cx="499.6" cy="219.5" rx="4.1" ry="1.75" fill="#b2ca14"/>
<ellipse cx="509.6" cy="222.4" rx="4.1" ry="1.75" fill="#b19444"/>
</g>
<line x1="65.5" y1="27.4" x2="65.5" y2="33.2" stroke="#2e2c12" stroke-width="1"/>
<line x1="94.5" y1="27.4" x2="94.5" y2="33.2" stroke="#2e2c12" stroke-width="1"/>
<line x1="36.5" y1="47.6" x2="42.3" y2="47.6" stroke="#2e2c12" stroke-width="1.0"/>
<line x1="36.5" y1="67.7" x2="42.3" y2="67.7" stroke="#2e2c12" stroke-width="1.0"/>
<line x1="36.5" y1="87.8" x2="42.3" y2="87.8" stroke="#2e2c12" stroke-width="1.0"/>
<line x1="36.5" y1="107.9" x2="42.3" y2="107.9" stroke="#2e2c12" stroke-width="1.0"/>
<line x1="36.5" y1="127.9" x2="42.3" y2="127.9" stroke="#2e2c12" stroke-width="1.0"/>
<line x1="36.5" y1="148.0" x2="42.3" y2="148.0" stroke="#2e2c12" stroke-width="1.0"/>
<line x1="36.5" y1="168.1" x2="42.3" y2="168.1" stroke="#2e2c12" stroke-width="1.0"/>
<line x1="36.5" y1="188.2" x2="42.3" y2="188.2" stroke="#2e2c12" stroke-width="1.0"/>
<line x1="36.5" y1="208.3" x2="42.3" y2="208.3" stroke="#2e2c12" stroke-width="1.0"/>
<rect x="36.5" y="27.4" width="86.5" height="200.8" fill="none" stroke="#1c170c" stroke-width="0.95"/>
<text x="78.6" y="10.5" text-anchor="middle" font-family="'Liberation Serif', 'Times New Roman', serif" font-size="9.6" letter-spacing=".55" fill="#1c1c1c" stroke="#1c1c1c" stroke-width=".18">Velocity (km/s)</text>
<text x="38.4" y="22.8" text-anchor="middle" font-family="'Liberation Serif', 'Times New Roman', serif" font-size="9.6" letter-spacing=".55" fill="#1c1c1c" stroke="#1c1c1c" stroke-width=".18">1.0</text>
<text x="64.1" y="22.8" text-anchor="middle" font-family="'Liberation Serif', 'Times New Roman', serif" font-size="9.6" letter-spacing=".55" fill="#1c1c1c" stroke="#1c1c1c" stroke-width=".18">1.5</text>
<text x="92.5" y="22.8" text-anchor="middle" font-family="'Liberation Serif', 'Times New Roman', serif" font-size="9.6" letter-spacing=".55" fill="#1c1c1c" stroke="#1c1c1c" stroke-width=".18">2.0</text>
<text x="120.7" y="22.8" text-anchor="middle" font-family="'Liberation Serif', 'Times New Roman', serif" font-size="9.6" letter-spacing=".55" fill="#1c1c1c" stroke="#1c1c1c" stroke-width=".18">2.5</text>
<text x="28.1" y="30.9" text-anchor="end" font-family="'Liberation Serif', 'Times New Roman', serif" font-size="9.6" letter-spacing=".55" fill="#1c1c1c" stroke="#1c1c1c" stroke-width=".18">0.0</text>
<text x="28.1" y="51.0" text-anchor="end" font-family="'Liberation Serif', 'Times New Roman', serif" font-size="9.6" letter-spacing=".55" fill="#1c1c1c" stroke="#1c1c1c" stroke-width=".18">0.5</text>
<text x="28.1" y="71.1" text-anchor="end" font-family="'Liberation Serif', 'Times New Roman', serif" font-size="9.6" letter-spacing=".55" fill="#1c1c1c" stroke="#1c1c1c" stroke-width=".18">1.0</text>
<text x="28.1" y="91.2" text-anchor="end" font-family="'Liberation Serif', 'Times New Roman', serif" font-size="9.6" letter-spacing=".55" fill="#1c1c1c" stroke="#1c1c1c" stroke-width=".18">1.5</text>
<text x="28.1" y="111.3" text-anchor="end" font-family="'Liberation Serif', 'Times New Roman', serif" font-size="9.6" letter-spacing=".55" fill="#1c1c1c" stroke="#1c1c1c" stroke-width=".18">2.0</text>
<text x="28.1" y="131.3" text-anchor="end" font-family="'Liberation Serif', 'Times New Roman', serif" font-size="9.6" letter-spacing=".55" fill="#1c1c1c" stroke="#1c1c1c" stroke-width=".18">2.5</text>
<text x="28.1" y="151.4" text-anchor="end" font-family="'Liberation Serif', 'Times New Roman', serif" font-size="9.6" letter-spacing=".55" fill="#1c1c1c" stroke="#1c1c1c" stroke-width=".18">3.0</text>
<text x="28.1" y="171.5" text-anchor="end" font-family="'Liberation Serif', 'Times New Roman', serif" font-size="9.6" letter-spacing=".55" fill="#1c1c1c" stroke="#1c1c1c" stroke-width=".18">3.5</text>
<text x="28.1" y="191.6" text-anchor="end" font-family="'Liberation Serif', 'Times New Roman', serif" font-size="9.6" letter-spacing=".55" fill="#1c1c1c" stroke="#1c1c1c" stroke-width=".18">4.0</text>
<text x="28.1" y="211.7" text-anchor="end" font-family="'Liberation Serif', 'Times New Roman', serif" font-size="9.6" letter-spacing=".55" fill="#1c1c1c" stroke="#1c1c1c" stroke-width=".18">4.5</text>
<text x="28.1" y="231.8" text-anchor="end" font-family="'Liberation Serif', 'Times New Roman', serif" font-size="9.6" letter-spacing=".55" fill="#1c1c1c" stroke="#1c1c1c" stroke-width=".18">5.0</text>
<text transform="translate(9.3,128.8) rotate(-90)" text-anchor="middle" font-family="'Liberation Serif', 'Times New Roman', serif" font-size="9.6" letter-spacing=".55" fill="#1c1c1c" stroke="#1c1c1c" stroke-width=".18">Time (s)</text>
<text x="80.3" y="250.2" text-anchor="middle" font-family="'Liberation Serif', 'Times New Roman', serif" font-size="9.6" letter-spacing=".55" fill="#1c1c1c" stroke="#1c1c1c" stroke-width=".18">(a)</text>
<line x1="205.5" y1="27.4" x2="205.5" y2="33.2" stroke="#2e2c12" stroke-width="1"/>
<line x1="233.5" y1="27.4" x2="233.5" y2="33.2" stroke="#2e2c12" stroke-width="1"/>
<line x1="176.2" y1="47.6" x2="182.0" y2="47.6" stroke="#2e2c12" stroke-width="1.0"/>
<line x1="176.2" y1="67.7" x2="182.0" y2="67.7" stroke="#2e2c12" stroke-width="1.0"/>
<line x1="176.2" y1="87.8" x2="182.0" y2="87.8" stroke="#2e2c12" stroke-width="1.0"/>
<line x1="176.2" y1="107.9" x2="182.0" y2="107.9" stroke="#2e2c12" stroke-width="1.0"/>
<line x1="176.2" y1="127.9" x2="182.0" y2="127.9" stroke="#2e2c12" stroke-width="1.0"/>
<line x1="176.2" y1="148.0" x2="182.0" y2="148.0" stroke="#2e2c12" stroke-width="1.0"/>
<line x1="176.2" y1="168.1" x2="182.0" y2="168.1" stroke="#2e2c12" stroke-width="1.0"/>
<line x1="176.2" y1="188.2" x2="182.0" y2="188.2" stroke="#2e2c12" stroke-width="1.0"/>
<line x1="176.2" y1="208.3" x2="182.0" y2="208.3" stroke="#2e2c12" stroke-width="1.0"/>
<rect x="176.2" y="27.4" width="86.4" height="200.8" fill="none" stroke="#1c170c" stroke-width="0.95"/>
<text x="217.9" y="10.5" text-anchor="middle" font-family="'Liberation Serif', 'Times New Roman', serif" font-size="9.6" letter-spacing=".55" fill="#1c1c1c" stroke="#1c1c1c" stroke-width=".18">Velocity (km/s)</text>
<text x="177.7" y="22.8" text-anchor="middle" font-family="'Liberation Serif', 'Times New Roman', serif" font-size="9.6" letter-spacing=".55" fill="#1c1c1c" stroke="#1c1c1c" stroke-width=".18">1.0</text>
<text x="203.4" y="22.8" text-anchor="middle" font-family="'Liberation Serif', 'Times New Roman', serif" font-size="9.6" letter-spacing=".55" fill="#1c1c1c" stroke="#1c1c1c" stroke-width=".18">1.5</text>
<text x="231.8" y="22.8" text-anchor="middle" font-family="'Liberation Serif', 'Times New Roman', serif" font-size="9.6" letter-spacing=".55" fill="#1c1c1c" stroke="#1c1c1c" stroke-width=".18">2.0</text>
<text x="260.0" y="22.8" text-anchor="middle" font-family="'Liberation Serif', 'Times New Roman', serif" font-size="9.6" letter-spacing=".55" fill="#1c1c1c" stroke="#1c1c1c" stroke-width=".18">2.5</text>
<text x="167.4" y="30.9" text-anchor="end" font-family="'Liberation Serif', 'Times New Roman', serif" font-size="9.6" letter-spacing=".55" fill="#1c1c1c" stroke="#1c1c1c" stroke-width=".18">0.0</text>
<text x="167.4" y="51.0" text-anchor="end" font-family="'Liberation Serif', 'Times New Roman', serif" font-size="9.6" letter-spacing=".55" fill="#1c1c1c" stroke="#1c1c1c" stroke-width=".18">0.5</text>
<text x="167.4" y="71.1" text-anchor="end" font-family="'Liberation Serif', 'Times New Roman', serif" font-size="9.6" letter-spacing=".55" fill="#1c1c1c" stroke="#1c1c1c" stroke-width=".18">1.0</text>
<text x="167.4" y="91.2" text-anchor="end" font-family="'Liberation Serif', 'Times New Roman', serif" font-size="9.6" letter-spacing=".55" fill="#1c1c1c" stroke="#1c1c1c" stroke-width=".18">1.5</text>
<text x="167.4" y="111.3" text-anchor="end" font-family="'Liberation Serif', 'Times New Roman', serif" font-size="9.6" letter-spacing=".55" fill="#1c1c1c" stroke="#1c1c1c" stroke-width=".18">2.0</text>
<text x="167.4" y="131.3" text-anchor="end" font-family="'Liberation Serif', 'Times New Roman', serif" font-size="9.6" letter-spacing=".55" fill="#1c1c1c" stroke="#1c1c1c" stroke-width=".18">2.5</text>
<text x="167.4" y="151.4" text-anchor="end" font-family="'Liberation Serif', 'Times New Roman', serif" font-size="9.6" letter-spacing=".55" fill="#1c1c1c" stroke="#1c1c1c" stroke-width=".18">3.0</text>
<text x="167.4" y="171.5" text-anchor="end" font-family="'Liberation Serif', 'Times New Roman', serif" font-size="9.6" letter-spacing=".55" fill="#1c1c1c" stroke="#1c1c1c" stroke-width=".18">3.5</text>
<text x="167.4" y="191.6" text-anchor="end" font-family="'Liberation Serif', 'Times New Roman', serif" font-size="9.6" letter-spacing=".55" fill="#1c1c1c" stroke="#1c1c1c" stroke-width=".18">4.0</text>
<text x="167.4" y="211.7" text-anchor="end" font-family="'Liberation Serif', 'Times New Roman', serif" font-size="9.6" letter-spacing=".55" fill="#1c1c1c" stroke="#1c1c1c" stroke-width=".18">4.5</text>
<text x="167.4" y="231.8" text-anchor="end" font-family="'Liberation Serif', 'Times New Roman', serif" font-size="9.6" letter-spacing=".55" fill="#1c1c1c" stroke="#1c1c1c" stroke-width=".18">5.0</text>
<text transform="translate(148.6,128.8) rotate(-90)" text-anchor="middle" font-family="'Liberation Serif', 'Times New Roman', serif" font-size="9.6" letter-spacing=".55" fill="#1c1c1c" stroke="#1c1c1c" stroke-width=".18">Time (s)</text>
<text x="219.6" y="250.2" text-anchor="middle" font-family="'Liberation Serif', 'Times New Roman', serif" font-size="9.6" letter-spacing=".55" fill="#1c1c1c" stroke="#1c1c1c" stroke-width=".18">(b)</text>
<line x1="344.5" y1="27.4" x2="344.5" y2="33.2" stroke="#2e2c12" stroke-width="1"/>
<line x1="373.5" y1="27.4" x2="373.5" y2="33.2" stroke="#2e2c12" stroke-width="1"/>
<line x1="315.5" y1="47.6" x2="321.3" y2="47.6" stroke="#2e2c12" stroke-width="1.0"/>
<line x1="315.5" y1="67.7" x2="321.3" y2="67.7" stroke="#2e2c12" stroke-width="1.0"/>
<line x1="315.5" y1="87.8" x2="321.3" y2="87.8" stroke="#2e2c12" stroke-width="1.0"/>
<line x1="315.5" y1="107.9" x2="321.3" y2="107.9" stroke="#2e2c12" stroke-width="1.0"/>
<line x1="315.5" y1="127.9" x2="321.3" y2="127.9" stroke="#2e2c12" stroke-width="1.0"/>
<line x1="315.5" y1="148.0" x2="321.3" y2="148.0" stroke="#2e2c12" stroke-width="1.0"/>
<line x1="315.5" y1="168.1" x2="321.3" y2="168.1" stroke="#2e2c12" stroke-width="1.0"/>
<line x1="315.5" y1="188.2" x2="321.3" y2="188.2" stroke="#2e2c12" stroke-width="1.0"/>
<line x1="315.5" y1="208.3" x2="321.3" y2="208.3" stroke="#2e2c12" stroke-width="1.0"/>
<rect x="315.5" y="27.4" width="86.5" height="200.8" fill="none" stroke="#1c170c" stroke-width="0.95"/>
<text x="357.4" y="10.5" text-anchor="middle" font-family="'Liberation Serif', 'Times New Roman', serif" font-size="9.6" letter-spacing=".55" fill="#1c1c1c" stroke="#1c1c1c" stroke-width=".18">Velocity (km/s)</text>
<text x="317.2" y="22.8" text-anchor="middle" font-family="'Liberation Serif', 'Times New Roman', serif" font-size="9.6" letter-spacing=".55" fill="#1c1c1c" stroke="#1c1c1c" stroke-width=".18">1.0</text>
<text x="342.9" y="22.8" text-anchor="middle" font-family="'Liberation Serif', 'Times New Roman', serif" font-size="9.6" letter-spacing=".55" fill="#1c1c1c" stroke="#1c1c1c" stroke-width=".18">1.5</text>
<text x="371.3" y="22.8" text-anchor="middle" font-family="'Liberation Serif', 'Times New Roman', serif" font-size="9.6" letter-spacing=".55" fill="#1c1c1c" stroke="#1c1c1c" stroke-width=".18">2.0</text>
<text x="399.5" y="22.8" text-anchor="middle" font-family="'Liberation Serif', 'Times New Roman', serif" font-size="9.6" letter-spacing=".55" fill="#1c1c1c" stroke="#1c1c1c" stroke-width=".18">2.5</text>
<text x="306.9" y="30.9" text-anchor="end" font-family="'Liberation Serif', 'Times New Roman', serif" font-size="9.6" letter-spacing=".55" fill="#1c1c1c" stroke="#1c1c1c" stroke-width=".18">0.0</text>
<text x="306.9" y="51.0" text-anchor="end" font-family="'Liberation Serif', 'Times New Roman', serif" font-size="9.6" letter-spacing=".55" fill="#1c1c1c" stroke="#1c1c1c" stroke-width=".18">0.5</text>
<text x="306.9" y="71.1" text-anchor="end" font-family="'Liberation Serif', 'Times New Roman', serif" font-size="9.6" letter-spacing=".55" fill="#1c1c1c" stroke="#1c1c1c" stroke-width=".18">1.0</text>
<text x="306.9" y="91.2" text-anchor="end" font-family="'Liberation Serif', 'Times New Roman', serif" font-size="9.6" letter-spacing=".55" fill="#1c1c1c" stroke="#1c1c1c" stroke-width=".18">1.5</text>
<text x="306.9" y="111.3" text-anchor="end" font-family="'Liberation Serif', 'Times New Roman', serif" font-size="9.6" letter-spacing=".55" fill="#1c1c1c" stroke="#1c1c1c" stroke-width=".18">2.0</text>
<text x="306.9" y="131.3" text-anchor="end" font-family="'Liberation Serif', 'Times New Roman', serif" font-size="9.6" letter-spacing=".55" fill="#1c1c1c" stroke="#1c1c1c" stroke-width=".18">2.5</text>
<text x="306.9" y="151.4" text-anchor="end" font-family="'Liberation Serif', 'Times New Roman', serif" font-size="9.6" letter-spacing=".55" fill="#1c1c1c" stroke="#1c1c1c" stroke-width=".18">3.0</text>
<text x="306.9" y="171.5" text-anchor="end" font-family="'Liberation Serif', 'Times New Roman', serif" font-size="9.6" letter-spacing=".55" fill="#1c1c1c" stroke="#1c1c1c" stroke-width=".18">3.5</text>
<text x="306.9" y="191.6" text-anchor="end" font-family="'Liberation Serif', 'Times New Roman', serif" font-size="9.6" letter-spacing=".55" fill="#1c1c1c" stroke="#1c1c1c" stroke-width=".18">4.0</text>
<text x="306.9" y="211.7" text-anchor="end" font-family="'Liberation Serif', 'Times New Roman', serif" font-size="9.6" letter-spacing=".55" fill="#1c1c1c" stroke="#1c1c1c" stroke-width=".18">4.5</text>
<text x="306.9" y="231.8" text-anchor="end" font-family="'Liberation Serif', 'Times New Roman', serif" font-size="9.6" letter-spacing=".55" fill="#1c1c1c" stroke="#1c1c1c" stroke-width=".18">5.0</text>
<text transform="translate(288.1,128.8) rotate(-90)" text-anchor="middle" font-family="'Liberation Serif', 'Times New Roman', serif" font-size="9.6" letter-spacing=".55" fill="#1c1c1c" stroke="#1c1c1c" stroke-width=".18">Time (s)</text>
<text x="359.1" y="250.2" text-anchor="middle" font-family="'Liberation Serif', 'Times New Roman', serif" font-size="9.6" letter-spacing=".55" fill="#1c1c1c" stroke="#1c1c1c" stroke-width=".18">(c)</text>
<line x1="484.5" y1="27.4" x2="484.5" y2="33.2" stroke="#1c1c1c" stroke-width="1.3"/>
<line x1="512.5" y1="27.4" x2="512.5" y2="33.2" stroke="#1c1c1c" stroke-width="1.3"/>
<line x1="455.6" y1="47.6" x2="461.4" y2="47.6" stroke="#1c1c1c" stroke-width="1.4"/>
<line x1="455.6" y1="67.7" x2="461.4" y2="67.7" stroke="#1c1c1c" stroke-width="1.4"/>
<line x1="455.6" y1="87.8" x2="461.4" y2="87.8" stroke="#1c1c1c" stroke-width="1.4"/>
<line x1="455.6" y1="107.9" x2="461.4" y2="107.9" stroke="#1c1c1c" stroke-width="1.4"/>
<line x1="455.6" y1="127.9" x2="461.4" y2="127.9" stroke="#1c1c1c" stroke-width="1.4"/>
<line x1="455.6" y1="148.0" x2="461.4" y2="148.0" stroke="#1c1c1c" stroke-width="1.4"/>
<line x1="455.6" y1="168.1" x2="461.4" y2="168.1" stroke="#1c1c1c" stroke-width="1.4"/>
<line x1="455.6" y1="188.2" x2="461.4" y2="188.2" stroke="#1c1c1c" stroke-width="1.4"/>
<line x1="455.6" y1="208.3" x2="461.4" y2="208.3" stroke="#1c1c1c" stroke-width="1.4"/>
<rect x="455.6" y="27.4" width="86.0" height="200.8" fill="none" stroke="#2b2929" stroke-width="1.3"/>
<text x="497.4" y="10.5" text-anchor="middle" font-family="'Liberation Serif', 'Times New Roman', serif" font-size="9.6" letter-spacing=".55" fill="#1c1c1c" stroke="#1c1c1c" stroke-width=".18">Velocity (km/s)</text>
<text x="457.2" y="22.8" text-anchor="middle" font-family="'Liberation Serif', 'Times New Roman', serif" font-size="9.6" letter-spacing=".55" fill="#1c1c1c" stroke="#1c1c1c" stroke-width=".18">1.0</text>
<text x="482.9" y="22.8" text-anchor="middle" font-family="'Liberation Serif', 'Times New Roman', serif" font-size="9.6" letter-spacing=".55" fill="#1c1c1c" stroke="#1c1c1c" stroke-width=".18">1.5</text>
<text x="511.3" y="22.8" text-anchor="middle" font-family="'Liberation Serif', 'Times New Roman', serif" font-size="9.6" letter-spacing=".55" fill="#1c1c1c" stroke="#1c1c1c" stroke-width=".18">2.0</text>
<text x="539.5" y="22.8" text-anchor="middle" font-family="'Liberation Serif', 'Times New Roman', serif" font-size="9.6" letter-spacing=".55" fill="#1c1c1c" stroke="#1c1c1c" stroke-width=".18">2.5</text>
<text x="446.9" y="30.9" text-anchor="end" font-family="'Liberation Serif', 'Times New Roman', serif" font-size="9.6" letter-spacing=".55" fill="#1c1c1c" stroke="#1c1c1c" stroke-width=".18">0.0</text>
<text x="446.9" y="51.0" text-anchor="end" font-family="'Liberation Serif', 'Times New Roman', serif" font-size="9.6" letter-spacing=".55" fill="#1c1c1c" stroke="#1c1c1c" stroke-width=".18">0.5</text>
<text x="446.9" y="71.1" text-anchor="end" font-family="'Liberation Serif', 'Times New Roman', serif" font-size="9.6" letter-spacing=".55" fill="#1c1c1c" stroke="#1c1c1c" stroke-width=".18">1.0</text>
<text x="446.9" y="91.2" text-anchor="end" font-family="'Liberation Serif', 'Times New Roman', serif" font-size="9.6" letter-spacing=".55" fill="#1c1c1c" stroke="#1c1c1c" stroke-width=".18">1.5</text>
<text x="446.9" y="111.3" text-anchor="end" font-family="'Liberation Serif', 'Times New Roman', serif" font-size="9.6" letter-spacing=".55" fill="#1c1c1c" stroke="#1c1c1c" stroke-width=".18">2.0</text>
<text x="446.9" y="131.3" text-anchor="end" font-family="'Liberation Serif', 'Times New Roman', serif" font-size="9.6" letter-spacing=".55" fill="#1c1c1c" stroke="#1c1c1c" stroke-width=".18">2.5</text>
<text x="446.9" y="151.4" text-anchor="end" font-family="'Liberation Serif', 'Times New Roman', serif" font-size="9.6" letter-spacing=".55" fill="#1c1c1c" stroke="#1c1c1c" stroke-width=".18">3.0</text>
<text x="446.9" y="171.5" text-anchor="end" font-family="'Liberation Serif', 'Times New Roman', serif" font-size="9.6" letter-spacing=".55" fill="#1c1c1c" stroke="#1c1c1c" stroke-width=".18">3.5</text>
<text x="446.9" y="191.6" text-anchor="end" font-family="'Liberation Serif', 'Times New Roman', serif" font-size="9.6" letter-spacing=".55" fill="#1c1c1c" stroke="#1c1c1c" stroke-width=".18">4.0</text>
<text x="446.9" y="211.7" text-anchor="end" font-family="'Liberation Serif', 'Times New Roman', serif" font-size="9.6" letter-spacing=".55" fill="#1c1c1c" stroke="#1c1c1c" stroke-width=".18">4.5</text>
<text x="446.9" y="231.8" text-anchor="end" font-family="'Liberation Serif', 'Times New Roman', serif" font-size="9.6" letter-spacing=".55" fill="#1c1c1c" stroke="#1c1c1c" stroke-width=".18">5.0</text>
<text transform="translate(428.1,128.8) rotate(-90)" text-anchor="middle" font-family="'Liberation Serif', 'Times New Roman', serif" font-size="9.6" letter-spacing=".55" fill="#1c1c1c" stroke="#1c1c1c" stroke-width=".18">Time (s)</text>
<text x="499.1" y="250.2" text-anchor="middle" font-family="'Liberation Serif', 'Times New Roman', serif" font-size="9.6" letter-spacing=".55" fill="#1c1c1c" stroke="#1c1c1c" stroke-width=".18">(d)</text>
</svg>
</body>
</html>
